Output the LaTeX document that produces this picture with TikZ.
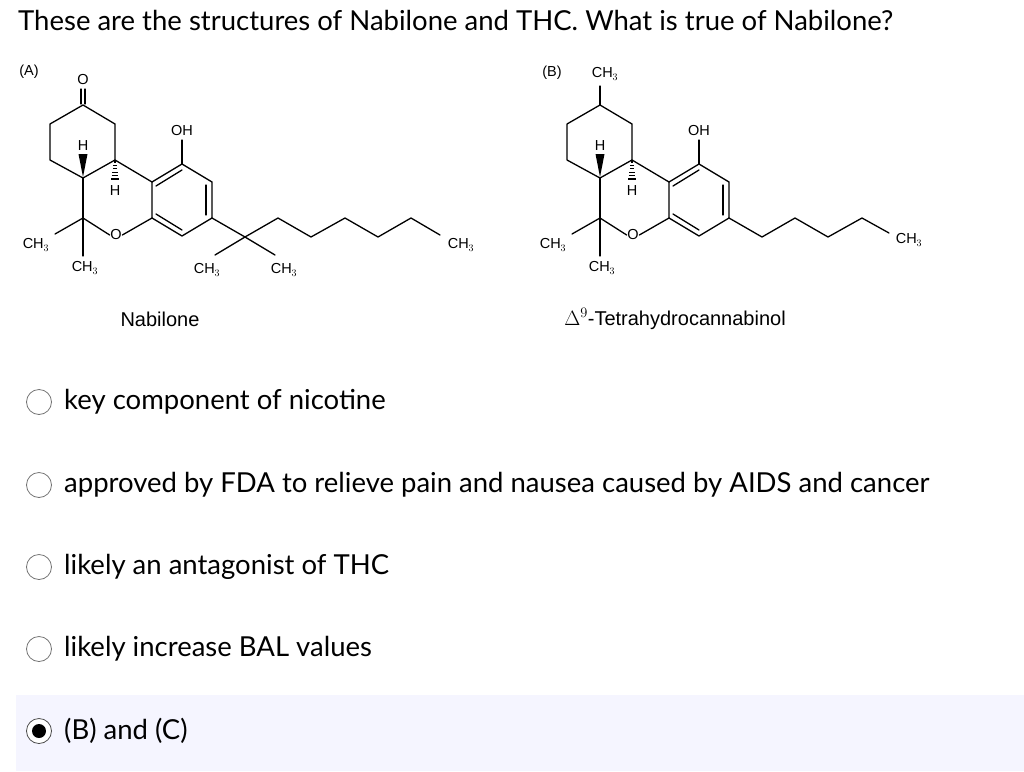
\documentclass[tikz,border=0pt]{standalone}
\usepackage{fontspec}
\setmainfont{Lato}
\newfontfamily\arial{Liberation Sans}
\begin{document}
\begin{tikzpicture}[x=1pt,y=-1pt,
  bd/.style={line width=1.3pt,line cap=round,line join=round},
  atm/.style={font=\arial\fontsize{14.5}{14.5}\selectfont,inner sep=0.5pt},
  opt/.style={font=\fontsize{27.5}{30}\selectfont,anchor=west,inner sep=0},
  radio/.style={circle,draw=black!55,line width=0.8pt,minimum size=25pt,inner sep=0}]
\useasboundingbox (0,0) rectangle (1024,771);
\fill[blue!4!white] (16,695) rectangle (1024,771);
\node[anchor=west,inner sep=0,font=\fontsize{27.5}{30}\selectfont] (title) at (18,20) {These are the structures of Nabilone and THC. What is true of Nabilone?};
% common core
\newcommand{\core}{%
  \draw[bd] (83,105)--(115,124)--(115,160)--(83,178)--(50,160)--(50,124)--(83,105);
  \fill (78.5,154)--(87.5,154)--(83,177)--cycle;
  \node[atm] at (83,146) {H};
  \foreach \i in {0,...,5} \draw[line width=1.1pt] (115-1-\i*0.6,162+\i*3.4)--(115+1+\i*0.6,162+\i*3.4);
  \node[atm] at (115,191) {H};
  \draw[bd] (83,178)--(83,218);
  \node[atm] (O) at (116,235) {O};
  \draw[bd] (83,218)--(O.west);
  \draw[bd] (O.east)--(152,218);
  \draw[bd] (115,160)--(152,182);
  \draw[bd] (152,182)--(182,164)--(212,182)--(212,218)--(182,236)--(152,218)--cycle;
  \draw[bd] (156,186)--(182,170);
  \draw[bd] (206,185)--(206,215);
  \draw[bd] (182,230)--(156,214);
  \draw[bd] (182,164)--(182,140);
  \node[atm] at (182,131) {OH};
  \draw[bd] (83,218)--(55,234);
  \node[atm] at (36,245) {CH$_3$};
  \draw[bd] (83,218)--(83,256);
  \node[atm] at (85,268) {CH$_3$};
}
% Nabilone
\core
\node[atm] at (29,72) {(A)};
\draw[bd] (81,104)--(81,89);\draw[bd] (85,104)--(85,89);
\node[atm] at (83,80) {O};
\draw[bd] (212,218)--(245,237)--(278,218)--(311,237)--(345,218)--(378,237)--(411,218)--(440,235);
\node[atm] at (461,245) {CH$_3$};
\draw[bd] (245,237)--(215,255);
\draw[bd] (245,237)--(275,255);
\node[atm] at (207,270) {CH$_3$};
\node[atm] at (284,270) {CH$_3$};
\node[atm,font=\arial\fontsize{20}{20}\selectfont] at (160,319) {Nabilone};
% THC
\begin{scope}[xshift=517pt]
\core
\draw[bd] (83,105)--(83,86);
\node[atm] at (88,74) {CH$_3$};
\draw[bd] (212,218)--(245,237)--(278,218)--(311,237)--(345,218)--(372,233);
\node[atm] at (392,240) {CH$_3$};
\end{scope}
\node[atm] at (552,73) {(B)};
\node[atm,font=\arial\fontsize{20}{20}\selectfont] at (675,319) {$\Delta^{9}$-Tetrahydrocannabinol};
% options
\node[radio] (r1) at (39,402) {};
\node[opt] (t1) at (64,402) {key component of nicotine};
\node[radio] (r2) at (39,485) {};
\node[opt] (t2) at (64,485) {approved by FDA to relieve pain and nausea caused by AIDS and cancer};
\node[radio] (r3) at (39,567) {};
\node[opt] (t3) at (64,567) {likely an antagonist of THC};
\node[radio] (r4) at (39,649) {};
\node[opt] (t4) at (64,649) {likely increase BAL values};
\node[radio,draw=black!70,fill=white] (r5) at (39,731) {};
\fill (r5) circle (7pt);
\node[opt] (t5) at (64,731) {(B) and (C)};
\end{tikzpicture}
\end{document}
